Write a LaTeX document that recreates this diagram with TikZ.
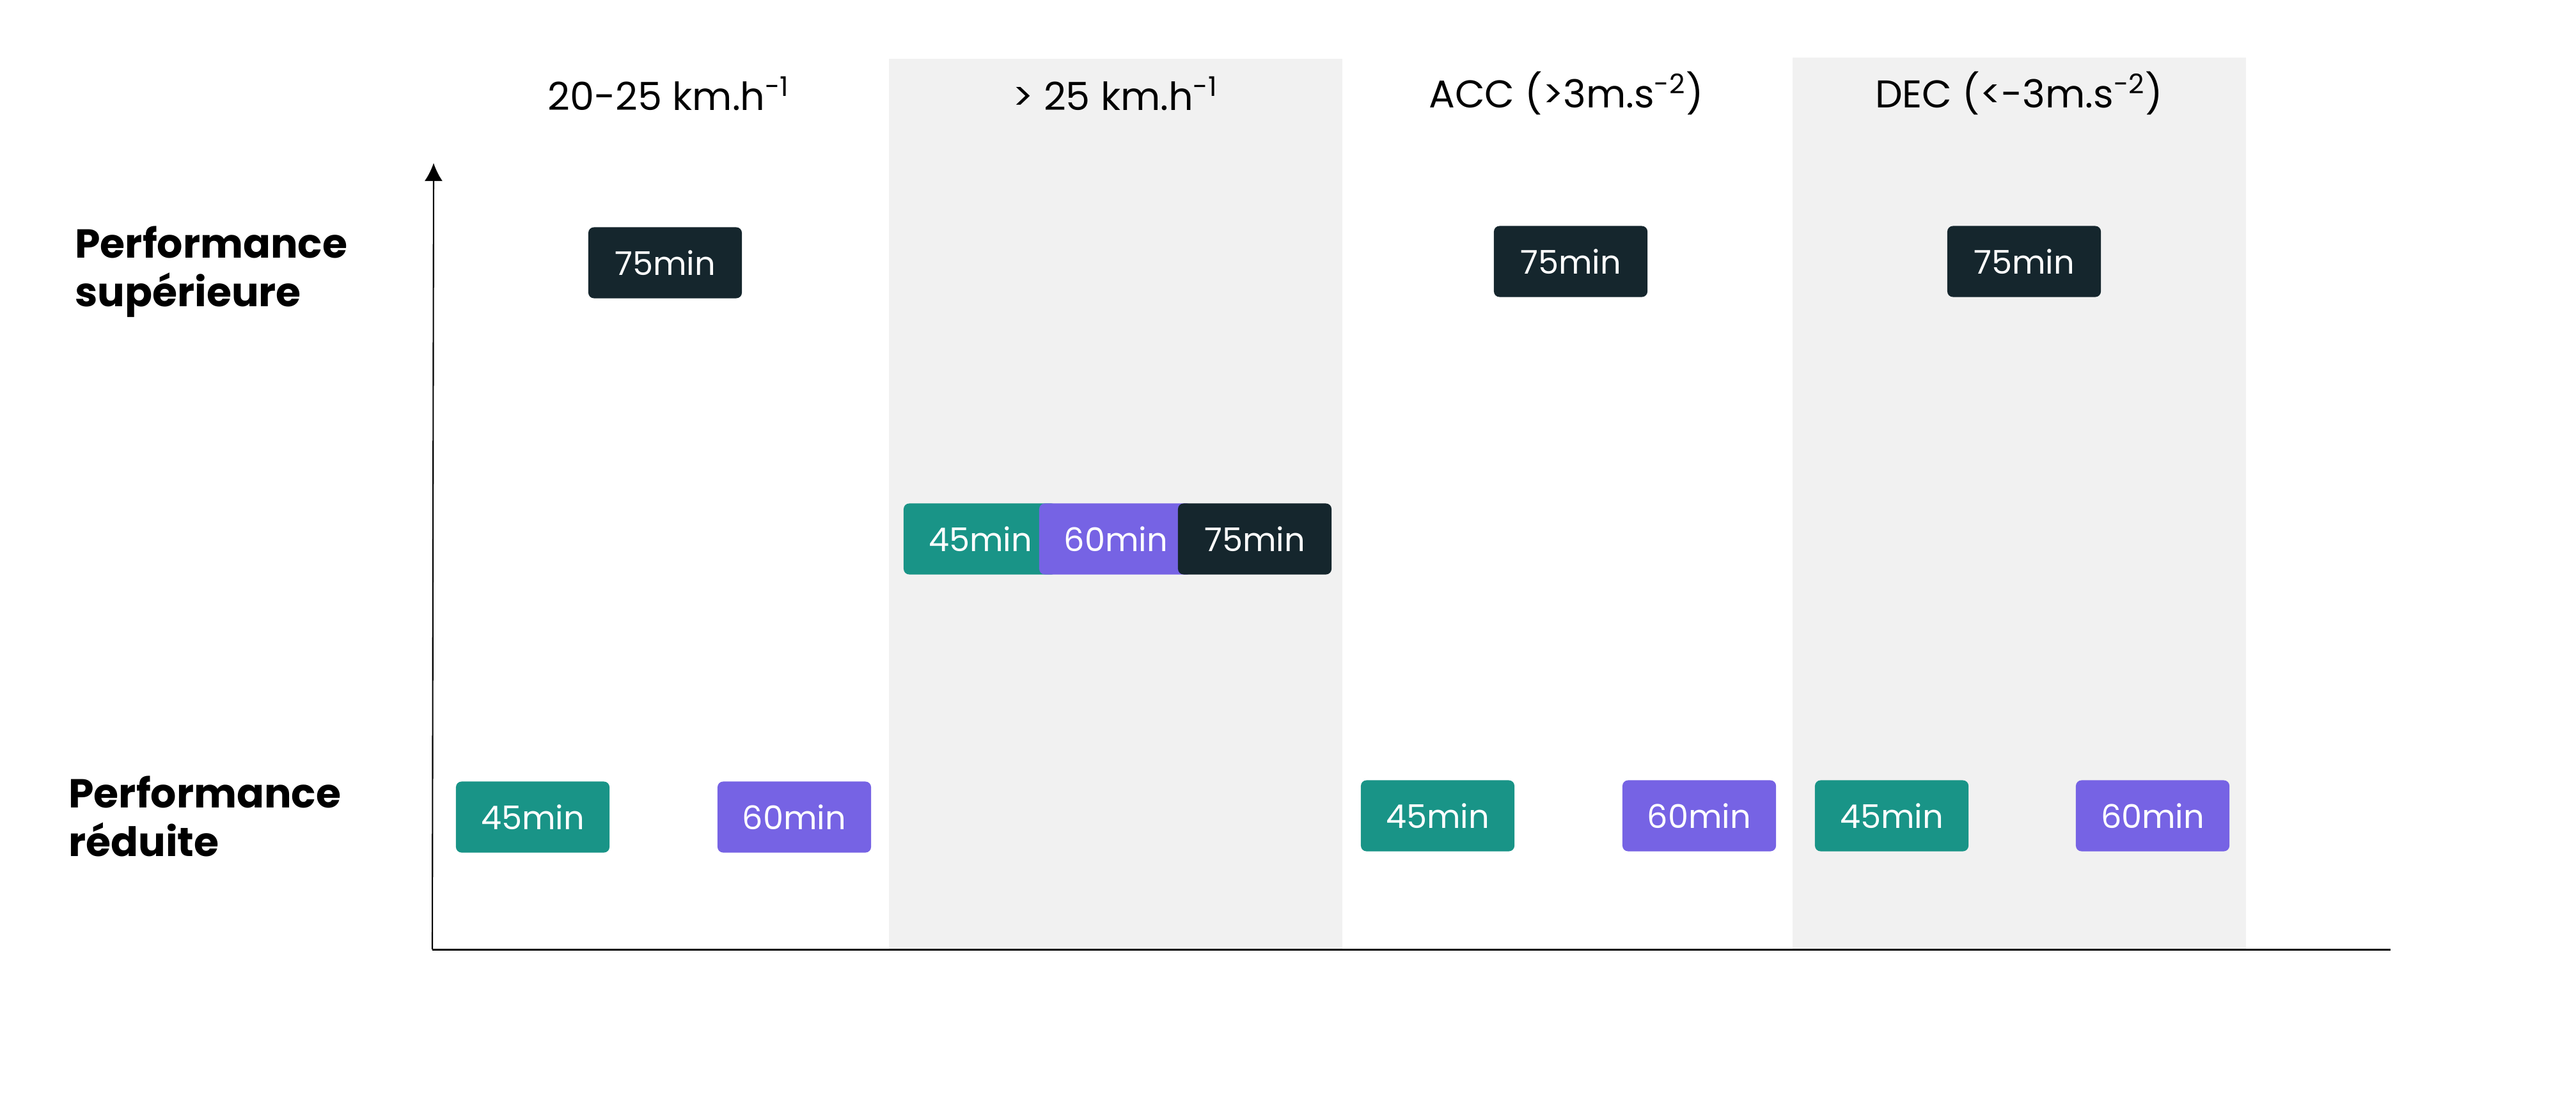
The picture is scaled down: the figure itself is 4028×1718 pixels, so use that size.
\documentclass[tikz,border=0pt]{standalone}
\usepackage{fontspec}
\setmainfont{Poppins}
\usetikzlibrary{arrows.meta, positioning}

\definecolor{tealbox}{HTML}{199487}
\definecolor{purplebox}{HTML}{7663E4}
\definecolor{darkbox}{HTML}{15262D}
\definecolor{bandgray}{HTML}{F1F1F1}

\begin{document}
\begin{tikzpicture}[
  x=0.01cm, y=-0.01cm,
  dur/.style={rounded corners=2.5pt, minimum width=2.4cm, minimum height=1.11cm,
              inner sep=0pt, text=white, font=\fontsize{14.5}{16}\selectfont},
  m45/.style={dur, fill=tealbox},
  m60/.style={dur, fill=purplebox},
  m75/.style={dur, fill=darkbox},
  head/.style={font=\fontsize{17.2}{20}\selectfont},
  perf/.style={font=\fontsize{18}{21.5}\selectfont\bfseries, align=left, anchor=west},
  axis/.style={line width=0.6pt}
]
\useasboundingbox (0,0) rectangle (4028,1718);

% grey bands behind the 2nd and 4th columns
\fill[bandgray] (1390,92) rectangle (2099,1485);
\fill[bandgray] (2803,90) rectangle (3512,1485);

% column titles
\node[head] (h1) at (1046,146) {20-25 km.h\textsuperscript{-1}};
\node[head] (h2) at (1744,146) {> 25 km.h\textsuperscript{-1}};
\node[head] (h3) at (2449,146) {ACC (>3m.s\textsuperscript{-2})};
\node[head] (h4) at (3157,146) {DEC (<-3m.s\textsuperscript{-2})};

% axes
\coordinate (origin) at (676,1485);
\coordinate (ytip) at (678,255);
\coordinate (xend) at (3738,1485);
\draw[axis, -{Latex[length=8pt, width=8pt]}] (origin) -- (ytip);
\draw[axis, line width=0.85pt] (origin) -- (xend);

\node[perf] (high) at (105,425) {Performance\\supérieure};
\node[perf] (low) at (95,1277) {Performance\\réduite};

% top row
\node[m75] (c1top) at (1040,411) {75min};
\node[m75] (c3top) at (2456,409) {75min};
\node[m75] (c4top) at (3165,409) {75min};

% middle row (> 25 km/h)
\node[m45] (c2a) at (1533,843) {45min};
\node[m60] (c2b) at (1745,843) {60min};
\node[m75] (c2c) at (1962,843) {75min};

% bottom row
\node[m45] (c1a) at (833,1278) {45min};
\node[m60] (c1b) at (1242,1278) {60min};
\node[m45] (c3a) at (2248,1276) {45min};
\node[m60] (c3b) at (2657,1276) {60min};
\node[m45] (c4a) at (2958,1276) {45min};
\node[m60] (c4b) at (3366,1276) {60min};

\end{tikzpicture}
\end{document}
